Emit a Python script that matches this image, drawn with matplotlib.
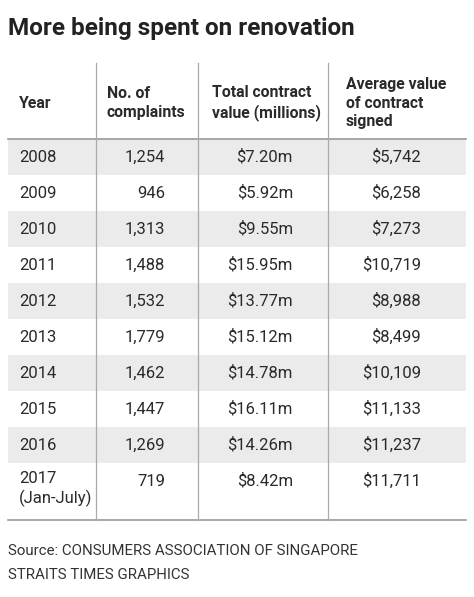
import matplotlib.pyplot as plt
from matplotlib.patches import Rectangle

years = ["2008", "2009", "2010", "2011", "2012", "2013", "2014", "2015", "2016", "2017\n(Jan-July)"]
complaints = ["1,254", "946", "1,313", "1,488", "1,532", "1,779", "1,462", "1,447", "1,269", "719"]
contract_value = ["$7.20m", "$5.92m", "$9.55m", "$15.95m", "$13.77m", "$15.12m", "$14.78m", "$16.11m", "$14.26m", "$8.42m"]
avg_value = ["$5,742", "$6,258", "$7,273", "$10,719", "$8,988", "$8,499", "$10,109", "$11,133", "$11,237", "$11,711"]
headers = ["Year", "No. of\ncomplaints", "Total contract\nvalue (millions)", "Average value\nof contract\nsigned"]

W, H = 474, 597
fig = plt.figure(figsize=(W / 100, H / 100), dpi=100)
ax = fig.add_axes([0, 0, 1, 1])
ax.set_xlim(0, W)
ax.set_ylim(H, 0)
ax.axis("off")

FONT = "Roboto"
txt = "#2a2a2a"
left, right = 8, 466
col_lines = [96, 198, 328]
head_top, head_bot = 63, 139
row_h = 36

ax.text(8, 29, "More being spent on renovation", fontsize=17.5, fontweight="bold",
        family=FONT, color="#222222", va="center")

# header
head_x = [19, 107, 212, 346]
for x, h in zip(head_x, headers):
    ax.text(x, (head_top + head_bot) / 2 + 2, h, fontsize=11.3, fontweight="bold", family=FONT,
            color=txt, va="center", ha="left", linespacing=1.3)

# rows
fs = 12
y = head_bot
for i in range(len(years)):
    h = row_h if i < len(years) - 1 else 57
    if i % 2 == 0:
        ax.add_patch(Rectangle((left, y), right - left, h, color="#ebebeb", lw=0))
    ty = y + row_h / 2
    if i == len(years) - 1:
        ax.text(19, y + 8, years[i], fontsize=fs, family=FONT, color=txt, va="top",
                linespacing=1.25)
    else:
        ax.text(19, ty, years[i], fontsize=fs, family=FONT, color=txt, va="center")
    ax.text(165, ty, complaints[i], fontsize=fs, family=FONT, color=txt, va="center", ha="right")
    ax.text(293, ty, contract_value[i], fontsize=fs, family=FONT, color=txt, va="center", ha="right")
    ax.text(421, ty, avg_value[i], fontsize=fs, family=FONT, color=txt, va="center", ha="right")
    y += h
bottom = y

ax.plot([left, right], [head_bot, head_bot], color="#999999", lw=1.2)
ax.plot([left, right], [bottom, bottom], color="#999999", lw=1.2)
for x in col_lines:
    ax.plot([x, x], [head_top, bottom], color="#aaaaaa", lw=0.9)

ax.text(8, 551, "Source: CONSUMERS ASSOCIATION OF SINGAPORE", fontsize=10.8, family=FONT,
        color="#333333", va="center")
ax.text(8, 575, "STRAITS TIMES GRAPHICS", fontsize=10.8, family=FONT, color="#333333", va="center")

fig.savefig("out.png", dpi=100)
